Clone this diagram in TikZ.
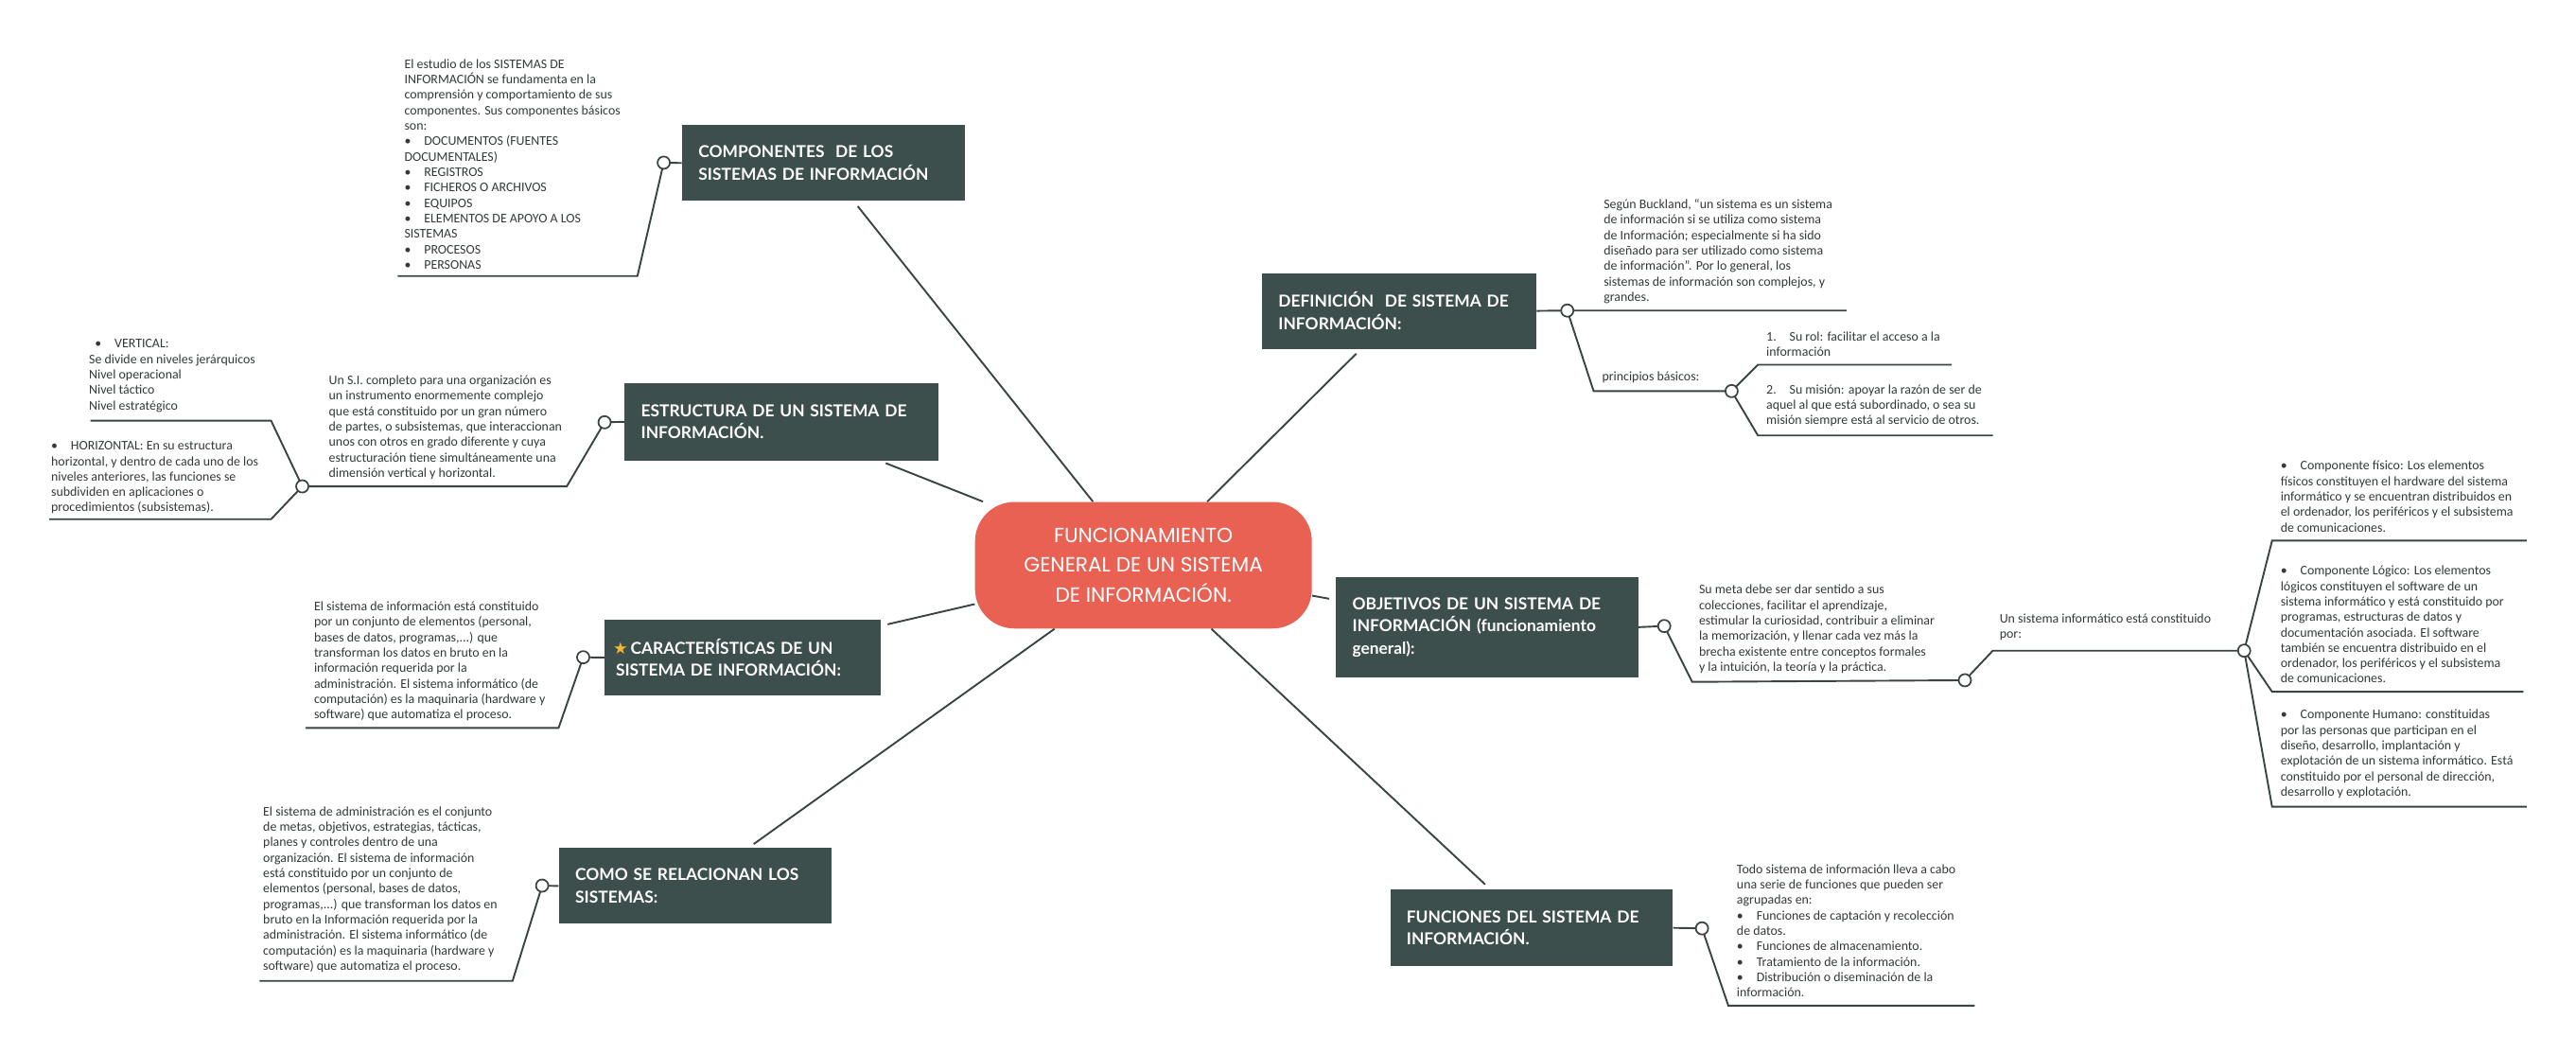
\documentclass[tikz,border=0pt]{standalone}
\usepackage{fontspec}
\setmainfont{Carlito}
\newfontfamily\boxf{Lato}
\newfontfamily\titf{Poppins}
\newfontfamily\symf{DejaVu Sans}
\definecolor{boxc}{HTML}{3D4F4C}
\definecolor{redc}{HTML}{E96153}
\definecolor{linec}{HTML}{3A4541}
\definecolor{txtc}{HTML}{333A38}
\definecolor{starc}{HTML}{F2B632}
\tikzset{
 box/.style={fill=boxc,text=white,font=\boxf\bfseries\fontsize{10}{13.5}\selectfont,align=left,anchor=north west,inner xsep=10pt,inner ysep=4pt},
 dot/.style={circle,draw=linec,line width=1pt,fill=white,inner sep=0pt,minimum size=7.5pt},
 ln/.style={draw=linec,line width=1.1pt},
 txt/.style={font=\fontsize{8}{9.4}\selectfont,text=txtc,align=left,anchor=south west,inner sep=0pt},
}
\begin{document}
\begin{tikzpicture}[x=1pt,y=-1pt]
\useasboundingbox (0,0) rectangle (1568,641);
\fill[white] (0,0) rectangle (1568,641);
% central
\node[fill=redc,rounded corners=24pt,minimum width=205pt,minimum height=77pt,text=white,align=center,font=\titf\fontsize{12.5}{18}\selectfont] (c) at (696,344) {FUNCIONAMIENTO\\GENERAL DE UN SISTEMA\\DE INFORMACIÓN.};
% boxes
\node[box,minimum width=172pt,minimum height=46pt,text width=152pt] (b1) at (415,76) {COMPONENTES\ \ DE LOS\\SISTEMAS DE INFORMACIÓN};
\node[box,minimum width=191pt,minimum height=47pt,text width=171pt] (b2) at (380,233) {ESTRUCTURA DE UN SISTEMA DE\\INFORMACIÓN.};
\node[box,minimum width=168pt,minimum height=46pt,text width=158pt,inner xsep=5pt] (b3) at (368,377) {{\symf\color{starc}★}\,CARACTERÍSTICAS DE UN\\ \,SISTEMA DE INFORMACIÓN:};
\node[box,minimum width=166pt,minimum height=46pt,text width=146pt] (b4) at (340,516) {COMO SE RELACIONAN LOS\\SISTEMAS:};
\node[box,minimum width=167pt,minimum height=46pt,text width=147pt] (b5) at (768,166) {DEFINICIÓN\ \ DE SISTEMA DE\\INFORMACIÓN:};
\node[box,minimum width=184pt,minimum height=61pt,text width=164pt] (b6) at (813,351) {OBJETIVOS DE UN SISTEMA DE\\INFORMACIÓN (funcionamiento\\general):};
\node[box,minimum width=172pt,minimum height=47pt,text width=152pt] (b7) at (846,541) {FUNCIONES DEL SISTEMA DE\\INFORMACIÓN.};
% main connectors
\foreach \b in {b1,b2,b3,b4,b5,b6,b7}{\draw[ln,shorten >=4pt] (c) -- (\b);}
% coordinates
\coordinate (k1) at (404,99); \coordinate (k2) at (368,257); \coordinate (k3) at (355,400);
\coordinate (k4) at (330,539); \coordinate (k5) at (954,189); \coordinate (k6) at (1013,381);
\coordinate (k7) at (1036,565);
\coordinate (k2b) at (184,296); \coordinate (k5b) at (1054,238);
\coordinate (k6b) at (1196,414); \coordinate (k6c) at (1366,396);
% branch lines
\draw[ln] (b1.west) -- (k1) -- (388,168) -- (242,168);
\draw[ln] (b2.west) -- (k2) -- (345,296) -- (k2b);
\draw[ln] (k2b) -- (165,256) -- (55,256);
\draw[ln] (k2b) -- (165,316) -- (30,316);
\draw[ln] (b3.west) -- (k3) -- (340,443) -- (186,443);
\draw[ln] (b4.west) -- (k4) -- (312,597) -- (158,597);
\draw[ln] (b5.east) -- (k5) -- (1124,189);
\draw[ln] (k5) -- (970,238) -- (k5b);
\draw[ln] (k5b) -- (1070,222) -- (1188,222);
\draw[ln] (k5b) -- (1070,265) -- (1213,265);
\draw[ln] (b6.east) -- (k6) -- (1030,415) -- (k6b);
\draw[ln] (k6b) -- (1213,396) -- (k6c);
\draw[ln] (k6c) -- (1383,329) -- (1538,329);
\draw[ln] (k6c) -- (1383,421) -- (1536,421);
\draw[ln] (k6c) -- (1383,491) -- (1538,491);
\draw[ln] (b7.east) -- (k7) -- (1052,612) -- (1202,612);
% dots
\foreach \k in {k1,k2,k3,k4,k5,k6,k7,k2b,k5b,k6b,k6c}{\node[dot] at (\k) {};}
% texts
\node[txt] (t1) at (246,164) {El estudio de los SISTEMAS DE\\INFORMACIÓN se fundamenta en la\\comprensión y comportamiento de sus\\componentes. Sus componentes básicos\\son:\\•\quad DOCUMENTOS (FUENTES\\DOCUMENTALES)\\•\quad REGISTROS\\•\quad FICHEROS O ARCHIVOS\\•\quad EQUIPOS\\•\quad ELEMENTOS DE APOYO A LOS\\SISTEMAS\\•\quad PROCESOS\\•\quad PERSONAS};
\node[txt] (t2) at (200,292) {Un S.I. completo para una organización es\\un instrumento enormemente complejo\\que está constituido por un gran número\\de partes, o subsistemas, que interaccionan\\unos con otros en grado diferente y cuya\\estructuración tiene simultáneamente una\\dimensión vertical y horizontal.};
\node[txt] (t2a) at (54,251) {\ \ •\quad VERTICAL:\\Se divide en niveles jerárquicos\\Nivel operacional\\Nivel táctico\\Nivel estratégico};
\node[txt] (t2b) at (31,313) {•\quad HORIZONTAL: En su estructura\\horizontal, y dentro de cada uno de los\\niveles anteriores, las funciones se\\subdividen en aplicaciones o\\procedimientos (subsistemas).};
\node[txt] (t3) at (191,439) {El sistema de información está constituido\\por un conjunto de elementos (personal,\\bases de datos, programas,...) que\\transforman los datos en bruto en la\\información requerida por la\\administración. El sistema informático (de\\computación) es la maquinaria (hardware y\\software) que automatiza el proceso.};
\node[txt] (t4) at (160,592) {El sistema de administración es el conjunto\\de metas, objetivos, estrategias, tácticas,\\planes y controles dentro de una\\organización. El sistema de información\\está constituido por un conjunto de\\elementos (personal, bases de datos,\\programas,...) que transforman los datos en\\bruto en la Información requerida por la\\administración. El sistema informático (de\\computación) es la maquinaria (hardware y\\software) que automatiza el proceso.};
\node[txt] (t5) at (976,185) {Según Buckland, “un sistema es un sistema\\de información si se utiliza como sistema\\de Información; especialmente si ha sido\\diseñado para ser utilizado como sistema\\de información”. Por lo general, los\\sistemas de información son complejos, y\\grandes.};
\node[txt] (t5a) at (975,233) {principios básicos:};
\node[txt] (t5b) at (1075,217) {1.\quad Su rol: facilitar el acceso a la\\información};
\node[txt] (t5c) at (1075,260) {2.\quad Su misión: apoyar la razón de ser de\\aquel al que está subordinado, o sea su\\misión siempre está al servicio de otros.};
\node[txt] (t6) at (1034,410) {Su meta debe ser dar sentido a sus\\colecciones, facilitar el aprendizaje,\\estimular la curiosidad, contribuir a eliminar\\la memorización, y llenar cada vez más la\\brecha existente entre conceptos formales\\y la intuición, la teoría y la práctica.};
\node[txt] (t6a) at (1217,390) {Un sistema informático está constituido\\por:};
\node[txt] (t6b) at (1388,324) {•\quad Componente físico: Los elementos\\físicos constituyen el hardware del sistema\\informático y se encuentran distribuidos en\\el ordenador, los periféricos y el subsistema\\de comunicaciones.};
\node[txt] (t6c) at (1388,416) {•\quad Componente Lógico: Los elementos\\lógicos constituyen el software de un\\sistema informático y está constituido por\\programas, estructuras de datos y\\documentación asociada. El software\\también se encuentra distribuido en el\\ordenador, los periféricos y el subsistema\\de comunicaciones.};
\node[txt] (t6d) at (1388,486) {•\quad Componente Humano: constituidas\\por las personas que participan en el\\diseño, desarrollo, implantación y\\explotación de un sistema informático. Está\\constituido por el personal de dirección,\\desarrollo y explotación.};
\node[txt] (t7) at (1057,607) {Todo sistema de información lleva a cabo\\una serie de funciones que pueden ser\\agrupadas en:\\•\quad Funciones de captación y recolección\\de datos.\\•\quad Funciones de almacenamiento.\\•\quad Tratamiento de la información.\\•\quad Distribución o diseminación de la\\información.};
\end{tikzpicture}
\end{document}
